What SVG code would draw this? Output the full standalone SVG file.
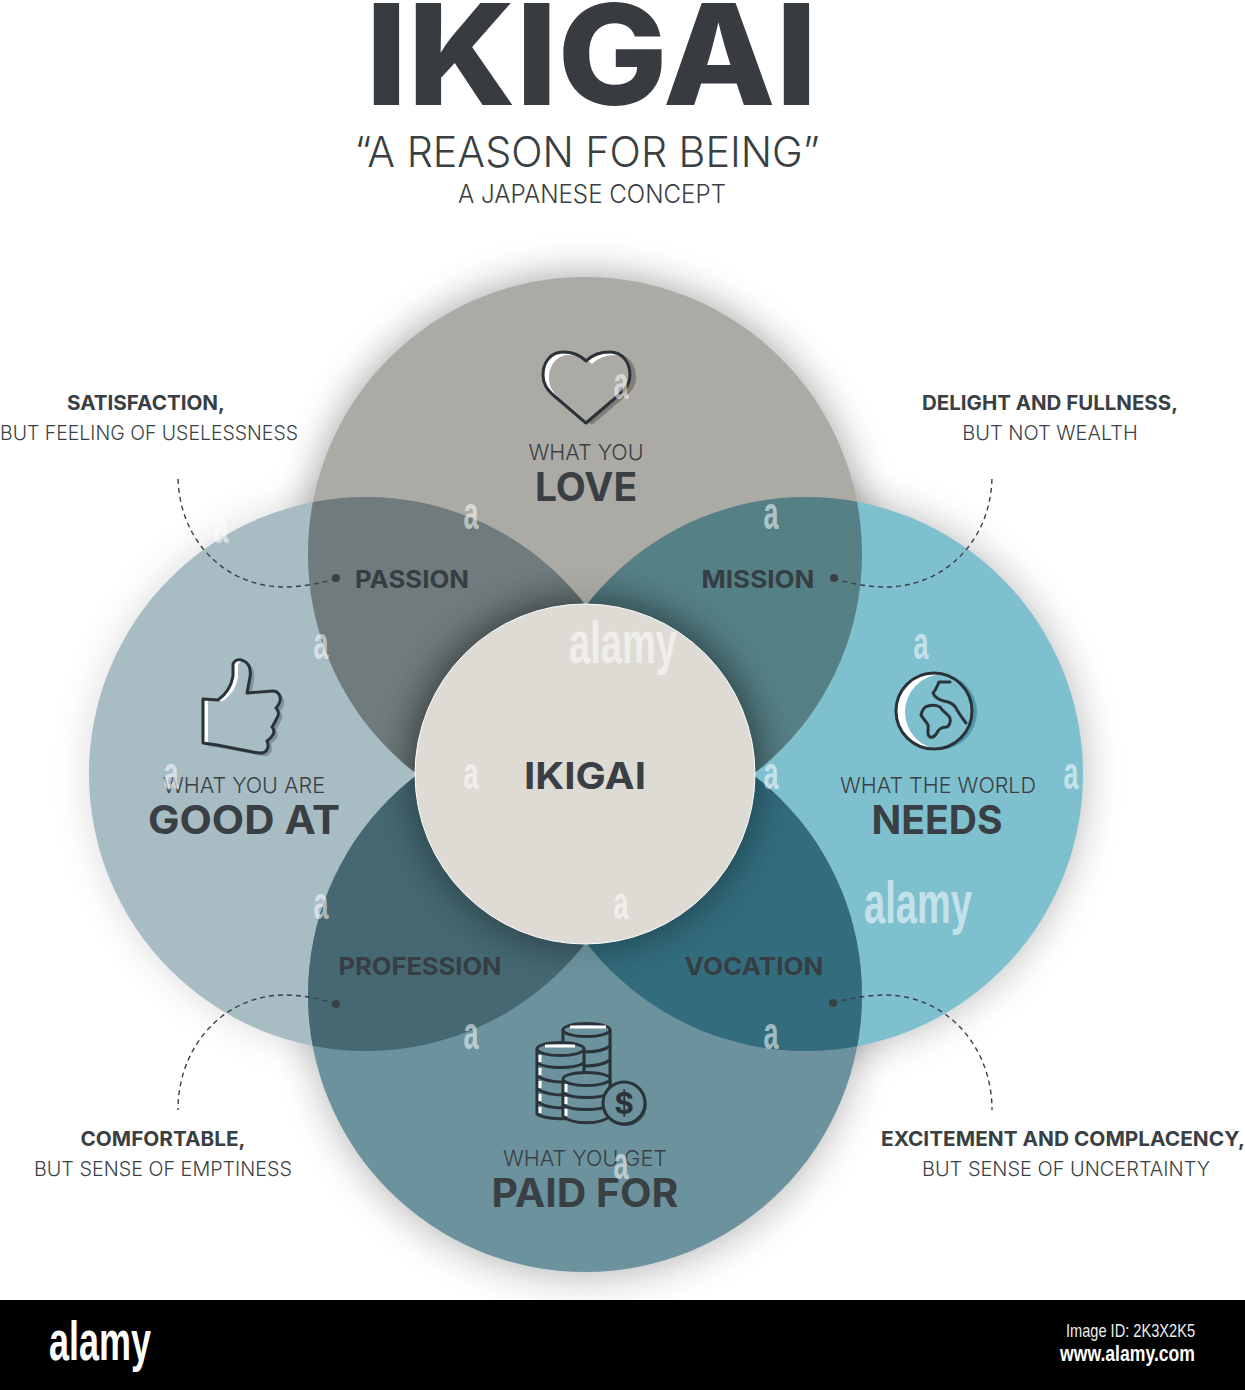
<svg xmlns="http://www.w3.org/2000/svg" width="1245" height="1390" viewBox="0 0 1245 1390">
<style>
text{font-family:"Inter","Liberation Sans",sans-serif;fill:#3a3f44;text-anchor:middle}
.t{font-weight:300}
.b{font-weight:700}
.big{font-weight:700;font-size:39px}
.mid{font-weight:300;font-size:22px}
.lens{font-weight:700;font-size:24px;fill:#363d43}
.nb{font-weight:700;font-size:20px}
.nt{font-weight:300;font-size:20px}
.wm{font-family:"Liberation Sans",sans-serif;font-weight:700;fill:#fff;fill-opacity:.55}
.a{font-size:46px}
.dash{fill:none;stroke:#3a3f44;stroke-width:1.4;stroke-dasharray:5 4}
.dot{fill:#3a3f44}
.ic{stroke:#2b3339;stroke-width:3;stroke-linejoin:round;stroke-linecap:round}
.hl{fill:none;stroke:#fff;stroke-width:3}
</style>
<defs>
<filter id="sh" x="-30%" y="-30%" width="160%" height="160%"><feGaussianBlur stdDeviation="20"/></filter>
<filter id="shc" x="-30%" y="-30%" width="160%" height="160%"><feGaussianBlur stdDeviation="18"/></filter>
<clipPath id="cT"><circle cx="585" cy="554" r="277"/></clipPath>
<clipPath id="cL"><circle cx="366" cy="774" r="277"/></clipPath>
<clipPath id="cR"><circle cx="806" cy="774" r="277"/></clipPath>
<clipPath id="cB"><circle cx="585" cy="995" r="277"/></clipPath>
<path id="heart" d="M586 361C580 355 572 352 563 352C551 352 543 362 543 375C543 384 547 389 552 394L586 423L620 394C626 389 630 384 630 375C630 362 622 352 610 352C600 352 592 355 586 361Z"/>
<path id="thumb" d="M203 699L218 700C225 695 231 688 233 676L233 664C235 659 240 659 244 661C250 664 251 670 250 677L247 693L273 691C279 691 281 697 280 701C279 705 277 707 276 708C279 711 279 715 277 718C275 722 273 726 272 727C275 730 274 734 272 736C270 739 268 740 267 741C269 745 268 750 265 752C262 754 258 753 253 752L217 745L203 743Z"/>
<clipPath id="thumbClip"><use href="#thumb"/></clipPath>
<clipPath id="heartClip"><use href="#heart"/></clipPath>
<clipPath id="globeClip"><circle cx="934" cy="711" r="38"/></clipPath>
</defs>
<rect width="1245" height="1390" fill="#fff"/>
<g id="title">
<text x="591.500" y="105" font-size="140" font-weight="800" textLength="452" lengthAdjust="spacingAndGlyphs" style="fill:#383c41">IKIGAI</text>
<text class="t" x="587" y="167" font-size="42" textLength="465" lengthAdjust="spacingAndGlyphs">“A REASON FOR BEING”</text>
<text class="t" x="592" y="203" font-size="25" textLength="268" lengthAdjust="spacingAndGlyphs">A JAPANESE CONCEPT</text>
</g>
<g id="shadows">
<circle cx="585" cy="554" r="277" fill="#000" opacity=".38" filter="url(#sh)"/>
<circle cx="366" cy="774" r="277" fill="#000" opacity=".14" filter="url(#sh)"/>
<circle cx="806" cy="774" r="277" fill="#000" opacity=".28" filter="url(#sh)"/>
<circle cx="585" cy="1000" r="277" fill="#000" opacity=".28" filter="url(#sh)"/>
</g>
<g id="circle-good-at"><circle cx="366" cy="774" r="277" fill="#a8bcc4"/></g>
<g id="circle-needs"><circle cx="806" cy="774" r="277" fill="#7fc0cf"/></g>
<g id="circle-love"><circle cx="585" cy="554" r="277" fill="#abaaa5"/></g>
<g id="circle-paid-for"><circle cx="585" cy="995" r="277" fill="#6b929d"/></g>
<g id="lens-passion"><g clip-path="url(#cT)"><circle cx="366" cy="774" r="277" fill="#6f7b7c"/></g></g>
<g id="lens-mission"><g clip-path="url(#cT)"><circle cx="806" cy="774" r="277" fill="#558086"/></g></g>
<g id="lens-profession"><g clip-path="url(#cB)"><circle cx="366" cy="774" r="277" fill="#456872"/></g></g>
<g id="lens-vocation"><g clip-path="url(#cB)"><circle cx="806" cy="774" r="277" fill="#336d7d"/></g></g>
<g id="center-shadow">
<g clip-path="url(#cT)"><circle cx="585" cy="774" r="174" fill="#000" opacity=".15" filter="url(#shc)"/></g>
<g clip-path="url(#cB)"><circle cx="585" cy="774" r="174" fill="#000" opacity=".15" filter="url(#shc)"/></g>
<g clip-path="url(#cT)"><g clip-path="url(#cL)"><circle cx="585" cy="774" r="176" fill="#000" opacity=".38" filter="url(#shc)"/></g></g>
<g clip-path="url(#cT)"><g clip-path="url(#cR)"><circle cx="585" cy="774" r="176" fill="#000" opacity=".38" filter="url(#shc)"/></g></g>
<g clip-path="url(#cB)"><g clip-path="url(#cL)"><circle cx="585" cy="774" r="176" fill="#000" opacity=".22" filter="url(#shc)"/></g></g>
<g clip-path="url(#cB)"><g clip-path="url(#cR)"><circle cx="585" cy="774" r="176" fill="#000" opacity=".22" filter="url(#shc)"/></g></g>
</g>
<g id="node-ikigai">
<circle cx="585" cy="774" r="170" fill="#dedbd5" stroke="#fff" stroke-width="1"/>
<text x="585" y="789" class="b" font-size="37" textLength="122" lengthAdjust="spacingAndGlyphs">IKIGAI</text>
</g>
<g id="node-love">
<use href="#heart" transform="translate(6 2)" fill="#7f7e7a"/>
<use href="#heart" fill="#fff"/>
<g clip-path="url(#heartClip)"><use href="#heart" transform="translate(6 3)" fill="#abaaa5"/></g>
<use href="#heart" class="ic" fill="none"/>
<text class="mid" x="586" y="460" textLength="115" lengthAdjust="spacingAndGlyphs">WHAT YOU</text>
<text class="big" x="586" y="501">LOVE</text>
</g>
<g id="node-good-at">
<use href="#thumb" transform="translate(4 3)" fill="#7f949d"/>
<use href="#thumb" fill="#fff"/>
<g clip-path="url(#thumbClip)"><use href="#thumb" transform="translate(5 1)" fill="#a8bcc4"/></g>
<use href="#thumb" class="ic" fill="none"/>
<text class="mid" x="244" y="793" textLength="162" lengthAdjust="spacingAndGlyphs">WHAT YOU ARE</text>
<text class="big" x="244" y="834" textLength="192" lengthAdjust="spacingAndGlyphs">GOOD AT</text>
</g>
<g id="node-needs">
<circle cx="939" cy="712" r="38" fill="#4f9aae"/>
<circle cx="934" cy="711" r="38" fill="#fff"/>
<g clip-path="url(#globeClip)"><circle cx="943" cy="712" r="38" fill="#7fc0cf"/></g>
<circle cx="934" cy="711" r="38" class="ic" fill="none"/>
<path class="ic" fill="none" d="M950 682L939 682C937 686 936 690 933 693C935 698 940 700 944 701C950 702 955 705 957 710C960 715 963 719 966 723"/>
<path class="ic" fill="none" d="M921 715C922 710 925 706 928 706C932 705 936 705 940 707C943 712 948 714 950 718C951 722 949 726 947 727C943 727 940 728 938 731C936 735 933 738 930 737C926 735 929 729 928 725C926 721 923 719 921 715Z"/>
<text class="mid" x="938" y="793" textLength="196" lengthAdjust="spacingAndGlyphs">WHAT THE WORLD</text>
<text class="big" x="937" y="834" textLength="131" lengthAdjust="spacingAndGlyphs">NEEDS</text>
</g>
<g id="node-paid-for">
<g class="ic" fill="#6b929d">
<path d="M563 1028V1082H610V1028Z" fill="#5a7f8a" stroke="none" transform="translate(2 2)"/>
<path d="M563 1030V1082H610V1030"/>
<ellipse cx="586.500" cy="1030" rx="23.500" ry="6.500"/>
<path fill="none" d="M584 1052C595 1052 605 1050 610 1046M584 1066C595 1066 605 1064 610 1060"/>
<path d="M537 1050V1114C545 1120 575 1120 584 1116V1050"/>
<ellipse cx="560.500" cy="1049" rx="23.500" ry="6.500"/>
<path fill="none" d="M537 1063C547 1069 574 1069 584 1063M537 1076C545 1081 555 1082 563 1082M537 1089C545 1094 555 1095 563 1095M537 1102C545 1107 555 1108 563 1108"/>
<path d="M563 1081V1116C572 1125 601 1125 610 1116V1081"/>
<ellipse cx="586.500" cy="1079" rx="23.500" ry="6.500"/>
<path fill="none" d="M563 1093C572 1099 601 1099 610 1093M563 1105C572 1111 601 1111 610 1105"/>
<circle cx="626" cy="1105" r="21" fill="#3f5f69" stroke="none"/>
<circle cx="624" cy="1103" r="21" fill="#6b929d"/>
</g>
<path class="hl" d="M540 1055V1062M540 1068V1075M540 1081V1088M540 1094V1101M540 1107V1113M566 1084V1092M566 1097V1104M566 1109V1116M606 1027H570M575 1046H545"/>
<text x="624" y="1114" font-size="30" font-weight="700" style="fill:#2b3339">$</text>
<text class="mid" x="585" y="1166" textLength="164" lengthAdjust="spacingAndGlyphs">WHAT YOU GET</text>
<text class="big" x="585" y="1207" textLength="187" lengthAdjust="spacingAndGlyphs">PAID FOR</text>
</g>
<g id="lens-labels">
<text class="lens" x="412" y="588" textLength="114" lengthAdjust="spacingAndGlyphs">PASSION</text>
<text class="lens" x="758" y="588" textLength="113" lengthAdjust="spacingAndGlyphs">MISSION</text>
<text class="lens" x="420" y="975" textLength="163" lengthAdjust="spacingAndGlyphs">PROFESSION</text>
<text class="lens" x="754" y="975" textLength="139" lengthAdjust="spacingAndGlyphs">VOCATION</text>
</g>
<g id="connectors">
<path class="dash" d="M336 578C320 584 300 587 285 587C225 587 178 540 178 475"/>
<path class="dash" d="M834 578C850 584 870 587 885 587C945 587 992 540 992 475"/>
<path class="dash" d="M336 1004C320 998 300 995 285 995C225 995 178 1045 178 1110"/>
<path class="dash" d="M833 1003C850 998 870 995 885 995C945 995 992 1045 992 1110"/>
<circle class="dot" cx="336" cy="578" r="4"/>
<circle class="dot" cx="834" cy="578" r="4"/>
<circle class="dot" cx="336" cy="1004" r="4"/>
<circle class="dot" cx="833" cy="1003" r="4"/>
</g>
<g id="note-satisfaction">
<text class="nb" x="146" y="410" textLength="158" lengthAdjust="spacingAndGlyphs">SATISFACTION,</text>
<text class="nt" x="149" y="440" textLength="298" lengthAdjust="spacingAndGlyphs">BUT FEELING OF USELESSNESS</text>
</g>
<g id="note-delight">
<text class="nb" x="1050" y="410" textLength="256" lengthAdjust="spacingAndGlyphs">DELIGHT AND FULLNESS,</text>
<text class="nt" x="1050" y="440">BUT NOT WEALTH</text>
</g>
<g id="note-comfortable">
<text class="nb" x="163" y="1146" textLength="165" lengthAdjust="spacingAndGlyphs">COMFORTABLE,</text>
<text class="nt" x="163" y="1176" textLength="258" lengthAdjust="spacingAndGlyphs">BUT SENSE OF EMPTINESS</text>
</g>
<g id="note-excitement">
<text class="nb" x="1063" y="1146" textLength="364" lengthAdjust="spacingAndGlyphs">EXCITEMENT AND COMPLACENCY,</text>
<text class="nt" x="1066" y="1176" textLength="288" lengthAdjust="spacingAndGlyphs">BUT SENSE OF UNCERTAINTY</text>
</g>
<g id="watermarks">
<text class="wm a" x="621" y="399" textLength="15" lengthAdjust="spacingAndGlyphs">a</text>
<text class="wm a" x="471" y="529" textLength="15" lengthAdjust="spacingAndGlyphs">a</text>
<text class="wm a" x="771" y="529" textLength="15" lengthAdjust="spacingAndGlyphs">a</text>
<text class="wm a" x="221" y="543" textLength="15" lengthAdjust="spacingAndGlyphs">a</text>
<text class="wm a" x="321" y="659" textLength="15" lengthAdjust="spacingAndGlyphs">a</text>
<text class="wm a" x="921" y="659" textLength="15" lengthAdjust="spacingAndGlyphs">a</text>
<text class="wm a" x="171" y="789" textLength="15" lengthAdjust="spacingAndGlyphs">a</text>
<text class="wm a" x="471" y="789" textLength="15" lengthAdjust="spacingAndGlyphs">a</text>
<text class="wm a" x="771" y="789" textLength="15" lengthAdjust="spacingAndGlyphs">a</text>
<text class="wm a" x="1071" y="789" textLength="15" lengthAdjust="spacingAndGlyphs">a</text>
<text class="wm a" x="321" y="919" textLength="15" lengthAdjust="spacingAndGlyphs">a</text>
<text class="wm a" x="621" y="919" textLength="15" lengthAdjust="spacingAndGlyphs">a</text>
<text class="wm a" x="471" y="1049" textLength="15" lengthAdjust="spacingAndGlyphs">a</text>
<text class="wm a" x="771" y="1049" textLength="15" lengthAdjust="spacingAndGlyphs">a</text>
<text class="wm a" x="621" y="1179" textLength="15" lengthAdjust="spacingAndGlyphs">a</text>
<text class="wm" x="623" y="663" font-size="60" textLength="108" lengthAdjust="spacingAndGlyphs">alamy</text>
<text class="wm" x="918" y="923" font-size="60" textLength="108" lengthAdjust="spacingAndGlyphs">alamy</text>
</g>
<g id="footer">
<rect x="0" y="1300" width="1245" height="90" fill="#000"/>
<text x="100" y="1360" font-size="56" textLength="102" lengthAdjust="spacingAndGlyphs" style="font-family:'Liberation Sans',sans-serif;font-weight:700;fill:#fff">alamy</text>
<text x="1195" y="1337" font-size="19" textLength="129" lengthAdjust="spacingAndGlyphs" style="font-family:'Liberation Sans',sans-serif;fill:#eee;text-anchor:end">Image ID: 2K3X2K5</text>
<text x="1195" y="1361" font-size="22" textLength="135" lengthAdjust="spacingAndGlyphs" style="font-family:'Liberation Sans',sans-serif;font-weight:700;fill:#fff;text-anchor:end">www.alamy.com</text>
</g>
</svg>
